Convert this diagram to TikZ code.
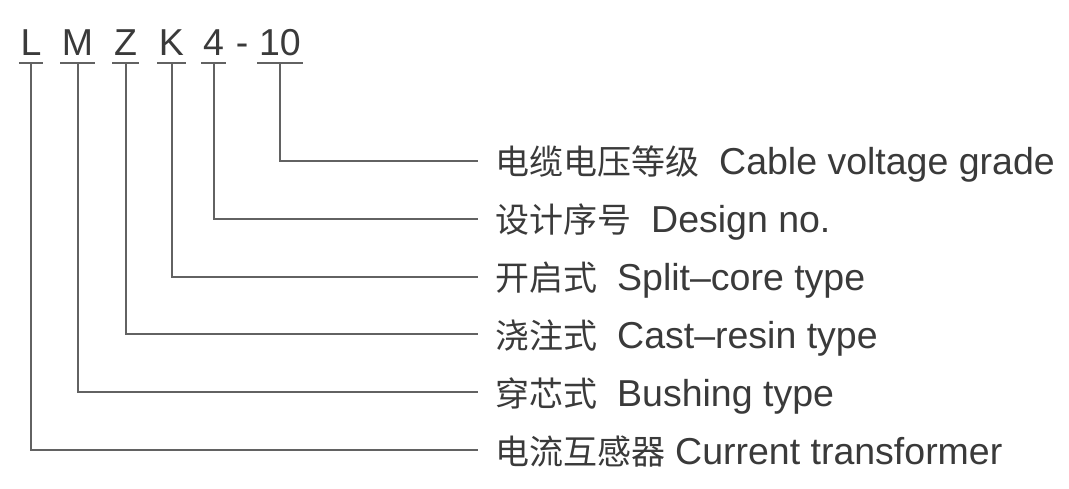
\documentclass[tikz,border=0pt]{standalone}
\usepackage{fontspec}
\setmainfont{Liberation Sans}
\newfontfamily\cjk{Noto Sans CJK SC}
\definecolor{linecol}{HTML}{626262}
\definecolor{txtcol}{HTML}{3A3A3A}
\newcommand{\zh}[1]{{\cjk\fontsize{34}{36}\selectfont #1}}
\tikzset{
  code/.style={inner xsep=1.5pt, inner ysep=0pt, text depth=0pt, anchor=base, text=txtcol,
    font=\fontsize{37.5}{40}\selectfont},
  uline/.style={draw=linecol, line width=2pt},
  lead/.style={draw=linecol, line width=2pt},
  lbl/.style={inner sep=0pt, anchor=base west, text=txtcol,
    font=\fontsize{37.5}{40}\selectfont}
}
\begin{document}
\begin{tikzpicture}[x=1pt,y=-1pt]
\useasboundingbox[fill=white] (0,0) rectangle (1069,489);
% code letters
\node[code] (L)   at (31,56)  {L};
\node[code] (M)   at (77.5,56)  {M};
\node[code] (Z)   at (125.5,56) {Z};
\node[code] (K)   at (171.5,56) {K};
\node[code] (n4)  at (213.5,56) {4};
\node[code] (dsh) at (242,56) {-};
\node[code] (n10) at (280,56) {10};
% underlines (7pt below the baseline)
\foreach \n in {L,M,Z,K,n4,n10}{
  \draw[uline] ([yshift=-7pt]\n.base west) -- ([yshift=-7pt]\n.base east);
}
% leader ends
\coordinate (e1) at (478,161);
\coordinate (e2) at (478,218.8);
\coordinate (e3) at (478,276.6);
\coordinate (e4) at (478,334.4);
\coordinate (e5) at (478,392.2);
\coordinate (e6) at (478,450);
% labels
\node[lbl] (t1) at (495,175)   {\zh{电缆电压等级}\hspace{20pt}Cable voltage grade};
\node[lbl] (t2) at (495,232.8) {\zh{设计序号}\hspace{20pt}Design no.};
\node[lbl] (t3) at (495,290.6) {\zh{开启式}\hspace{20pt}Split–core type};
\node[lbl] (t4) at (495,348.4) {\zh{浇注式}\hspace{20pt}Cast–resin type};
\node[lbl] (t5) at (495,406.2) {\zh{穿芯式}\hspace{20pt}Bushing type};
\node[lbl] (t6) at (495,464)   {\zh{电流互感器}\hspace{10pt}Current transformer};
% leaders
\draw[lead] ([yshift=-7pt]n10.base) |- (e1);
\draw[lead] ([yshift=-7pt]n4.base)  |- (e2);
\draw[lead] ([yshift=-7pt]K.base)   |- (e3);
\draw[lead] ([yshift=-7pt]Z.base)   |- (e4);
\draw[lead] ([yshift=-7pt]M.base)   |- (e5);
\draw[lead] ([yshift=-7pt]L.base)   |- (e6);
\end{tikzpicture}
\end{document}
